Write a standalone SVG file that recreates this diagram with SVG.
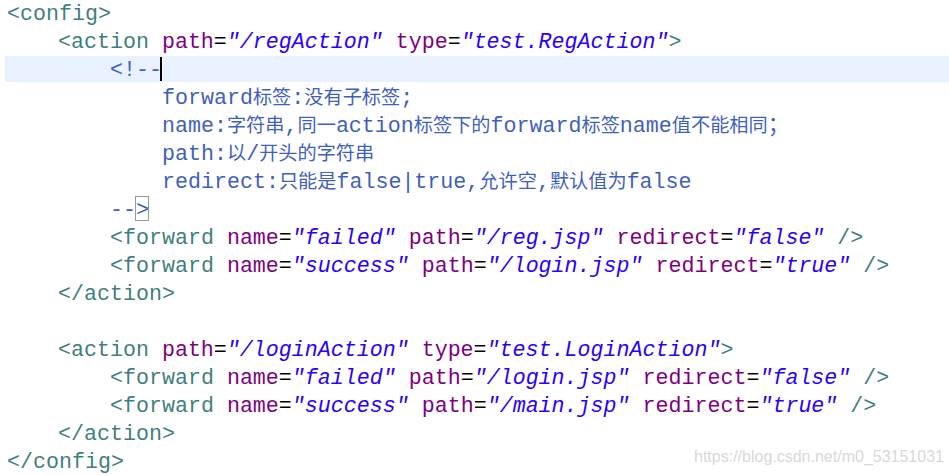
<svg xmlns="http://www.w3.org/2000/svg" width="949" height="475" viewBox="0 0 949 475">
<style>
text{font-family:"Liberation Mono","DejaVu Sans Mono","Noto Sans CJK SC",monospace;font-size:21.65px;white-space:pre}
.t{fill:#3f7f7f}.a{fill:#7f007f}.v{fill:#2a00ff;font-style:italic}.e{fill:#000}.c{fill:#3f5fbf}
.z{font-family:"Noto Sans CJK SC",sans-serif;font-size:19.2px}
.w{font-family:"Liberation Sans",sans-serif;font-size:16px;fill:#d8d8d8}
</style>
<rect width="949" height="475" fill="#fff"/>
<rect x="5" y="56" width="944" height="26" fill="#e8f2fe"/>
<g id="code">
<text x="7" y="20" class="t">&lt;config&gt;</text>
<text x="58" y="48" xml:space="preserve"><tspan class="t">&lt;action </tspan><tspan class="a">path</tspan><tspan class="e">=</tspan><tspan class="v">"/regAction"</tspan><tspan class="a"> type</tspan><tspan class="e">=</tspan><tspan class="v">"test.RegAction"</tspan><tspan class="t">&gt;</tspan></text>
<text x="110" y="76" class="c">&lt;!--</text>
<rect x="160" y="57" width="2" height="24" fill="#000"/>
<text x="162" y="104" class="c">forward<tspan class="z">标签</tspan>:<tspan class="z">没有子标签</tspan>;</text>
<text x="162" y="132" class="c">name:<tspan class="z">字符串</tspan>,<tspan class="z">同一</tspan>action<tspan class="z">标签下的</tspan>forward<tspan class="z">标签</tspan>name<tspan class="z">值不能相同</tspan>；</text>
<text x="162" y="160" class="c">path:<tspan class="z">以</tspan>/<tspan class="z">开头的字符串</tspan></text>
<text x="162" y="188" class="c">redirect:<tspan class="z">只能是</tspan>false|true,<tspan class="z">允许空</tspan>,<tspan class="z">默认值为</tspan>false</text>
<text x="110" y="216" class="c">--&gt;</text>
<rect x="135.5" y="196.5" width="13" height="24" fill="none" stroke="#999"/>
<text x="110" y="244" xml:space="preserve"><tspan class="t">&lt;forward </tspan><tspan class="a">name</tspan><tspan class="e">=</tspan><tspan class="v">"failed"</tspan><tspan class="a"> path</tspan><tspan class="e">=</tspan><tspan class="v">"/reg.jsp"</tspan><tspan class="a"> redirect</tspan><tspan class="e">=</tspan><tspan class="v">"false"</tspan><tspan class="t"> /&gt;</tspan></text>
<text x="110" y="272" xml:space="preserve"><tspan class="t">&lt;forward </tspan><tspan class="a">name</tspan><tspan class="e">=</tspan><tspan class="v">"success"</tspan><tspan class="a"> path</tspan><tspan class="e">=</tspan><tspan class="v">"/login.jsp"</tspan><tspan class="a"> redirect</tspan><tspan class="e">=</tspan><tspan class="v">"true"</tspan><tspan class="t"> /&gt;</tspan></text>
<text x="58" y="300" class="t">&lt;/action&gt;</text>
<text x="58" y="356" xml:space="preserve"><tspan class="t">&lt;action </tspan><tspan class="a">path</tspan><tspan class="e">=</tspan><tspan class="v">"/loginAction"</tspan><tspan class="a"> type</tspan><tspan class="e">=</tspan><tspan class="v">"test.LoginAction"</tspan><tspan class="t">&gt;</tspan></text>
<text x="110" y="384" xml:space="preserve"><tspan class="t">&lt;forward </tspan><tspan class="a">name</tspan><tspan class="e">=</tspan><tspan class="v">"failed"</tspan><tspan class="a"> path</tspan><tspan class="e">=</tspan><tspan class="v">"/login.jsp"</tspan><tspan class="a"> redirect</tspan><tspan class="e">=</tspan><tspan class="v">"false"</tspan><tspan class="t"> /&gt;</tspan></text>
<text x="110" y="412" xml:space="preserve"><tspan class="t">&lt;forward </tspan><tspan class="a">name</tspan><tspan class="e">=</tspan><tspan class="v">"success"</tspan><tspan class="a"> path</tspan><tspan class="e">=</tspan><tspan class="v">"/main.jsp"</tspan><tspan class="a"> redirect</tspan><tspan class="e">=</tspan><tspan class="v">"true"</tspan><tspan class="t"> /&gt;</tspan></text>
<text x="58" y="440" class="t">&lt;/action&gt;</text>
<text x="7" y="468" class="t">&lt;/config&gt;</text>
<text x="694" y="462" class="w">https://blog.csdn.net/m0_53151031</text>
</g>
</svg>
